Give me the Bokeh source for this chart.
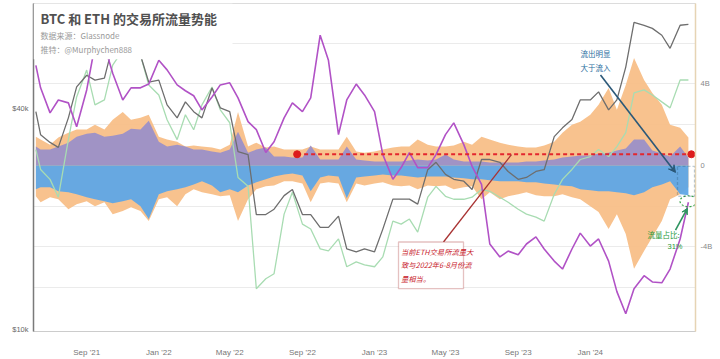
from datetime import datetime
import pandas as pd
from bokeh.plotting import figure
from bokeh.models import (Range1d, LogScale, LogAxis, LinearAxis, FixedTicker, Grid,
                          DatetimeTickFormatter, Label, BoxAnnotation, Arrow, VeeHead)
from bokeh.embed import file_html
from bokeh.resources import INLINE

# ---------------- data ----------------
dates = ["2021-06-07"] + [f"{y}-{m:02d}-{d:02d}"
                          for y in (2021, 2022, 2023, 2024) for m in range(1, 13) for d in (1, 15)
                          if (y, m, d) >= (2021, 6, 15) and (y, m, d) <= (2024, 6, 15)]

btc_usd = [39300, 34000, 32400, 31400, 37800, 45900, 49400, 47900, 48500, 59600, 61500, 63500, 56000, 47300,
           47900, 41000, 37800, 41800, 39300, 37800, 45600, 40250, 39300, 30600, 30000, 20600,
           20600, 21300, 23200, 24100, 20600, 20600, 19000, 19000, 20400, 16600, 16300, 16600,
           16300, 18800, 22700, 22700, 22700, 22000, 27300, 28600, 26500, 25700, 25400, 24100,
           29100, 29100, 28600, 27000, 25700, 26000, 27000, 27300, 33600, 35500, 37400, 42300,
           42300, 44500, 39750, 42300, 52000, 68800, 67600, 66300, 63500, 58500, 67600, 68000]

eth_usd = [2527, 2191, 2040, 1795, 2714, 3687, 4469, 3483, 3608, 4632, 5155, 5343, 4973, 4017,
           3739, 3130, 2714, 3243, 2914, 3483, 3960, 3360, 3063, 2069, 1941, 931,
           1000, 1037, 1590, 1860, 1480, 1429, 1239, 1221, 1331, 1090, 1129, 1105,
           1090, 1170, 1512, 1480, 1535, 1398, 1795, 1941, 1807, 1769, 1769, 1795,
           1900, 1873, 1795, 1732, 1647, 1590, 1557, 1512, 1834, 2040, 2191, 2353,
           2404, 2527, 2404, 2581, 2853, 3793, 3877, 3739, 3558, 3408, 4162, 4162]

eth_flow_share_pct = [64.0, 58.6, 52.6, 55.7, 55.0, 49.3, 58.1, 68.8, 68.8, 62.1, 55.7, 58.6, 58.6, 59.5,
                      65.2, 62.9, 59.3, 57.9, 56.7, 53.3, 56.4, 59.3, 59.8, 56.2, 50.5, 48.6,
                      43.1, 45.7, 51.4, 55.0, 52.9, 56.2, 71.2, 65.2, 47.4, 55.7, 59.5, 56.9,
                      52.9, 42.6, 36.7, 39.5, 43.1, 39.5, 39.5, 42.6, 47.4, 50.2, 45.0, 39.8,
                      35.5, 21.2, 18.1, 19.5, 18.6, 21.2, 22.9, 20.0, 17.1, 15.2, 20.0, 23.8,
                      20.7, 22.4, 17.1, 9.8, 4.5, 10.5, 13.6, 12.1, 11.9, 15.2, 22.4, 31.2]

btc_inflow_b = [0.93, 0.78, 0.78, 0.93, 1.12, 1.41, 1.56, 1.61, 1.41, 1.46, 1.56, 1.80, 1.76, 2.20,
                1.17, 0.93, 1.02, 0.93, 0.78, 0.78, 0.68, 0.63, 0.78, 1.66, 0.63, 0.78,
                0.88, 0.44, 0.44, 0.39, 0.39, 0.98, 0.29, 0.29, 0.29, 0.93, 0.29, 0.24,
                0.20, 0.20, 0.20, 0.20, 0.24, 0.29, 0.24, 0.29, 0.54, 0.29, 0.20, 0.20,
                0.20, 0.15, 0.15, 0.15, 0.15, 0.20, 0.20, 0.24, 0.29, 0.39, 0.44, 0.49,
                0.49, 0.59, 0.63, 0.73, 0.83, 1.27, 1.27, 0.73, 0.59, 0.44, 0.93, 0.39]

btc_outflow_b = [-1.17, -1.07, -1.07, -1.27, -1.32, -1.41, -1.56, -1.66, -1.76, -1.85, -1.76, -1.66, -2.00, -2.63,
                 -1.41, -1.27, -1.17, -1.07, -0.93, -0.78, -0.98, -1.32, -1.17, -1.32, -0.98, -0.83,
                 -0.68, -0.54, -0.44, -0.39, -0.49, -1.27, -0.59, -0.49, -0.54, -1.61, -0.59, -0.54,
                 -0.49, -0.44, -0.49, -0.49, -0.54, -0.59, -0.54, -0.54, -0.54, -0.59, -0.63, -0.68,
                 -0.68, -0.73, -0.78, -0.78, -0.78, -0.83, -0.83, -0.88, -0.93, -0.98, -1.02, -1.17,
                 -1.22, -1.27, -1.27, -1.32, -1.37, -1.46, -1.32, -1.07, -0.93, -0.78, -1.41, -1.46]

eth_inflow_b = [1.41, 1.27, 1.02, 1.37, 1.61, 1.76, 1.76, 2.00, 1.76, 2.24, 2.63, 2.24, 2.34, 2.49,
                1.41, 1.27, 1.17, 0.93, 0.98, 0.93, 0.88, 0.78, 1.02, 2.63, 0.93, 1.12,
                0.88, 0.93, 0.78, 0.78, 0.78, 0.93, 0.78, 0.78, 0.78, 1.41, 0.68, 0.63,
                0.68, 0.78, 0.88, 0.93, 0.93, 1.27, 1.02, 0.93, 0.93, 0.98, 1.17, 1.02,
                1.41, 1.27, 1.12, 1.02, 0.93, 0.88, 0.88, 0.98, 1.17, 1.61, 2.00, 2.15,
                2.49, 2.98, 3.80, 2.73, 3.95, 5.27, 4.20, 3.56, 2.98, 2.00, 1.85, 1.37]

eth_outflow_b = [-1.51, -1.80, -1.56, -1.66, -2.15, -1.90, -1.76, -2.00, -1.80, -2.39, -2.24, -2.05, -2.24, -2.73,
                 -1.66, -1.56, -2.00, -1.41, -1.17, -1.32, -1.41, -1.51, -1.46, -2.73, -1.66, -1.17,
                 -1.02, -0.98, -0.78, -0.78, -0.88, -1.80, -0.88, -0.83, -0.88, -1.80, -0.88, -0.98,
                 -0.88, -0.83, -0.98, -1.02, -0.98, -1.17, -0.98, -1.02, -0.98, -1.17, -1.07, -1.02,
                 -1.66, -1.32, -1.66, -1.51, -1.41, -1.32, -1.46, -1.51, -1.51, -1.41, -1.56, -1.66,
                 -2.00, -2.29, -3.12, -2.39, -3.37, -5.07, -4.20, -3.51, -2.73, -1.66, -1.41, -1.07]

ref_dates = ["2022-08-23", "2024-06-20"]
ref_level_b = [0.55, 0.55]

x_tick_dates = ["2021-09-01", "2022-01-01", "2022-05-01", "2022-09-01",
                "2023-01-01", "2023-05-01", "2023-09-01", "2024-01-01"]
usd_ticks = [10000, 40000]
usd_tick_labels = ["$10k", "$40k"]
flow_ticks = [-4, 0, 4]
flow_tick_labels = ["-4B", "0", "4B"]

# ---------------- figure ----------------
t = pd.to_datetime(dates)
rt = pd.to_datetime(ref_dates)
x_start = datetime(2021, 6, 3)
x_end = datetime(2024, 6, 27)
x0_ms = pd.Timestamp(x_start).value / 1e6
x1_ms = pd.Timestamp(x_end).value / 1e6

W, H = 720, 359
FRAME_L, FRAME_R, FRAME_T, FRAME_B = 33, 695, 3, 333   # page pixels of the frame
ZERO_Y, PX_PER_B = 166, 20.5


def X(px):
    return x0_ms + (px - FRAME_L) / (FRAME_R - FRAME_L) * (x1_ms - x0_ms)


def Y(py):
    return (ZERO_Y - py) / PX_PER_B


CJK = "Noto Sans CJK SC"
SANS = "Liberation Sans"

p = figure(width=W, height=H, x_axis_type="datetime",
           x_range=Range1d(x_start, x_end), y_range=Range1d(-8.15, 7.95),
           y_axis_location=None, output_backend="svg", toolbar_location=None,
           min_border_left=FRAME_L, min_border_right=W - FRAME_R,
           min_border_top=FRAME_T, min_border_bottom=H - FRAME_B,
           background_fill_color="white", border_fill_color="white",
           outline_line_color="#dcdcdc")
p.extra_y_ranges = {"btc": Range1d(9885, 77500), "eth": Range1d(685, 7206), "pct": Range1d(0.24, 78.8)}
p.extra_y_scales = {"btc": LogScale(), "eth": LogScale()}

p.xgrid.visible = False
p.ygrid.visible = False
p.add_layout(Grid(dimension=1, ticker=FixedTicker(ticks=[-6, -4, -2, 2, 4, 6]),
                  grid_line_color="#ebebeb", grid_line_width=1))

# areas
p.varea(x=t, y1=eth_outflow_b, y2=eth_inflow_b, fill_color="#f7bd84", fill_alpha=0.92)
p.varea(x=t, y1=0, y2=btc_inflow_b, fill_color="#9b90c8", fill_alpha=0.95)
p.varea(x=t, y1=btc_outflow_b, y2=0, fill_color="#5fa6e6", fill_alpha=0.95)

# lines
p.line(t, eth_usd, y_range_name="eth", line_color="#a8dcb2", line_width=1.3)
p.line(t, btc_usd, y_range_name="btc", line_color="#6e6e6e", line_width=1.3)
p.line(t, eth_flow_share_pct, y_range_name="pct", line_color="#b152c6", line_width=1.6)

# white title area
p.add_layout(BoxAnnotation(right=X(232), bottom=Y(59), fill_color="white", fill_alpha=1.0,
                           line_color=None))
p.add_layout(Label(x=X(40), y=Y(18), text="BTC 和 ETH 的交易所流量势能", text_font=CJK,
                   text_font_size="13px", text_font_style="bold", text_color="#505050",
                   text_baseline="middle"))
p.add_layout(Label(x=X(40), y=Y(35), text="数据来源：Glassnode", text_font=CJK,
                   text_font_size="8px", text_color="#9a9a9a", text_baseline="middle"))
p.add_layout(Label(x=X(40), y=Y(49), text="推特：@Murphychen888", text_font=CJK,
                   text_font_size="8px", text_color="#9a9a9a", text_baseline="middle"))

# reference level (red dashed)
p.line(rt, ref_level_b, line_color="#e3262e", line_width=1.8, line_dash="4 3")
p.scatter(rt, ref_level_b, size=7, color="#dd1c1c")

# red annotation
p.add_layout(Arrow(end=None, x_start=X(443), y_start=Y(243), x_end=X(511), y_end=Y(155),
                   line_color="#a83232", line_width=1.3))
p.add_layout(BoxAnnotation(left=X(398), right=X(463), top=Y(243), bottom=Y(290),
                           fill_color="white", fill_alpha=0.95, line_color="#a83232",
                           line_width=1.3))
for i, txt in enumerate(["当前ETH交易所流量大", "致与2022年6-8月份流", "量相当。"]):
    p.add_layout(Label(x=X(400.5), y=Y(253 + 13.5 * i), text=txt, text_font=CJK,
                       text_font_size="7.3px", text_font_style="italic", text_color="#c8202a",
                       text_baseline="middle"))

# blue annotation
p.add_layout(Label(x=X(580), y=Y(53), text="流出明显", text_font=CJK, text_font_size="7.5px",
                   text_color="#2a6e9e", text_baseline="middle"))
p.add_layout(Label(x=X(580), y=Y(67), text="大于流入", text_font=CJK, text_font_size="7.5px",
                   text_color="#2a6e9e", text_baseline="middle"))
p.add_layout(Arrow(end=VeeHead(size=7, line_color="#2b5878", fill_color="#2b5878"),
                   x_start=X(600), y_start=Y(75), x_end=X(675), y_end=Y(173),
                   line_color="#2b5878", line_width=1.6))
p.add_layout(BoxAnnotation(left=X(677), right=X(694), top=Y(167), bottom=Y(197),
                           fill_color=None, line_color="#2b5878", line_width=1.3,
                           line_dash="3 2"))

# green annotation
p.ellipse(x=[X(688)], y=[Y(202)], width=17, height=11, width_units="screen",
          height_units="screen", fill_color=None, line_color="#3aa44a", line_width=1.2,
          line_dash="2 2")
p.add_layout(Arrow(end=VeeHead(size=6, line_color="#2e9460", fill_color="#2e9460"),
                   x_start=X(675), y_start=Y(231), x_end=X(687), y_end=Y(209),
                   line_color="#2e9460", line_width=1.6))
p.add_layout(Label(x=X(647), y=Y(235), text="流量占比:", text_font=CJK, text_font_size="7.5px",
                   text_color="#2a9a3a", text_baseline="middle"))
p.add_layout(Label(x=X(667), y=Y(248), text="31%", text_font=SANS, text_font_size="7.5px",
                   text_color="#2a9a3a", text_baseline="middle"))

# axes
left = LogAxis(y_range_name="btc", ticker=FixedTicker(ticks=usd_ticks),
               major_label_overrides=dict(zip(usd_ticks, usd_tick_labels)),
               axis_line_color="#7a7a7a", axis_line_width=1.5,
               major_tick_out=0, major_tick_in=0, minor_tick_out=0, minor_tick_in=0,
               major_label_standoff=5, major_label_text_font_size="7.5px",
               major_label_text_color="#666666", major_label_text_font=SANS)
p.add_layout(left, "left")
right = LinearAxis(ticker=FixedTicker(ticks=flow_ticks),
                   major_label_overrides=dict(zip(flow_ticks, flow_tick_labels)),
                   axis_line_color="#e6d4b4", axis_line_width=1.5,
                   major_tick_out=0, major_tick_in=0, minor_tick_out=0, minor_tick_in=0,
                   major_label_standoff=5, major_label_text_font_size="7.5px",
                   major_label_text_color="#888888", major_label_text_font=SANS)
p.add_layout(right, "right")

p.xaxis.ticker = FixedTicker(ticks=[pd.Timestamp(d).value / 1e6 for d in x_tick_dates])
p.xaxis.formatter = DatetimeTickFormatter(months="%b '%y", days="%b '%y", years="%b '%y")
p.xaxis.axis_line_color = "#cccccc"
p.xaxis.major_tick_line_color = None
p.xaxis.minor_tick_line_color = None
p.xaxis.major_label_standoff = 10
p.xaxis.major_label_text_font_size = "8px"
p.xaxis.major_label_text_color = "#777777"
p.xaxis.major_label_text_font = SANS

open("out.html", "w").write(file_html(p, INLINE))
